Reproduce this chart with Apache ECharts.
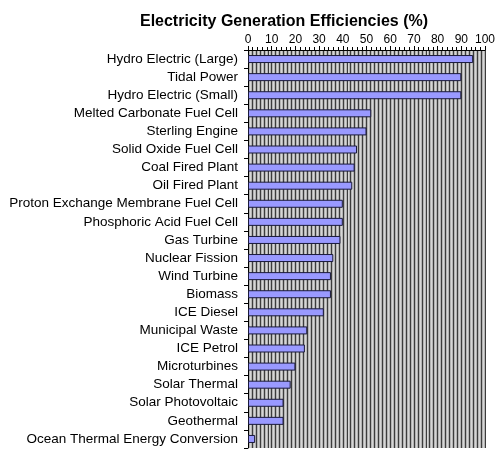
<!DOCTYPE html>
<html>
<head>
<meta charset="utf-8">
<script src="https://cdn.jsdelivr.net/npm/echarts@6/dist/echarts.min.js"></script>
<style>html,body{margin:0;padding:0;background:#fff}#c{width:500px;height:454px}</style>
</head>
<body>
<div id="c"></div>
<script>
const categories = [
  "Hydro Electric (Large)", "Tidal Power", "Hydro Electric (Small)",
  "Melted Carbonate Fuel Cell", "Sterling Engine", "Solid Oxide Fuel Cell",
  "Coal Fired Plant", "Oil Fired Plant", "Proton Exchange Membrane Fuel Cell",
  "Phosphoric Acid Fuel Cell", "Gas Turbine", "Nuclear Fission", "Wind Turbine",
  "Biomass", "ICE Diesel", "Municipal Waste", "ICE Petrol", "Microturbines",
  "Solar Thermal", "Solar Photovoltaic", "Geothermal", "Ocean Thermal Energy Conversion"
];
const efficiency = [95, 90, 90, 52, 50, 46, 45, 44, 40, 40, 39, 36, 35, 35, 32, 25, 24, 20, 18, 15, 15, 3];
const xTicks = [0, 100, 10];

const chart = echarts.init(document.getElementById('c'), null, {renderer: 'canvas'});
chart.setOption({
  animation: false,
  backgroundColor: '#ffffff',
  title: {
    text: 'Electricity Generation Efficiencies (%)',
    left: 279, top: 9, textAlign: 'center',
    textStyle: {fontFamily: 'Liberation Sans, Arial', fontSize: 16, fontWeight: 'bold', color: '#000'}
  },
  grid: {left: 248, top: 50, width: 237, height: 398, show: true, backgroundColor: '#b4b4b4', borderWidth: 0},
  xAxis: [{
    type: 'value', position: 'top', min: xTicks[0], max: xTicks[1], interval: xTicks[2],
    axisLine: {show: true, lineStyle: {color: '#000', width: 1}},
    axisTick: {show: true, inside: false, length: 4, lineStyle: {color: '#000'}},
    minorTick: {show: true, splitNumber: 5, length: 3, lineStyle: {color: '#000'}},
    axisLabel: {color: '#000', fontSize: 12, fontFamily: 'Liberation Sans, Arial', margin: 4},
    splitLine: {show: false}
  }, {
    type: 'value', position: 'bottom', min: 0, max: 100, interval: 100 / 60,
    axisLine: {show: false}, axisTick: {show: false}, axisLabel: {show: false},
    splitLine: {show: true, lineStyle: {color: '#3c3c3c', width: 1}},
    minorSplitLine: {show: true, lineStyle: {color: '#d6d6d6', width: 1}},
    minorTick: {show: false, splitNumber: 2}
  }],
  yAxis: {
    type: 'category', data: categories, inverse: true,
    axisLine: {show: true, lineStyle: {color: '#000'}},
    axisTick: {show: true, length: 4, lineStyle: {color: '#000'}},
    axisLabel: {interval: 0, color: '#000', fontSize: 13.5, fontFamily: 'Liberation Sans, Arial', margin: 10}
  },
  series: [{
    type: 'bar', data: efficiency, xAxisIndex: 0, barWidth: 8,
    itemStyle: {color: '#9999ff', borderColor: '#1a1a3a', borderWidth: 1}
  }]
});
</script>
</body>
</html>
